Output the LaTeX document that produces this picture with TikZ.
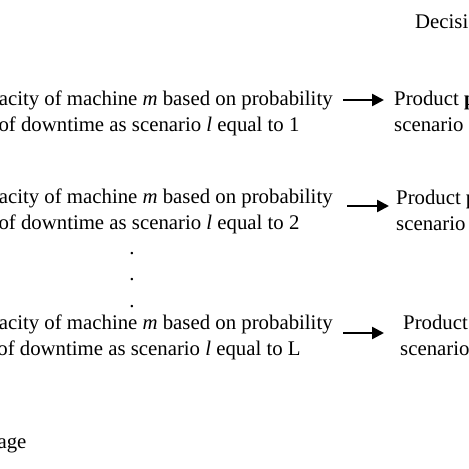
\documentclass[tikz,border=0pt]{standalone}
\usepackage{fontspec}
\setmainfont{Liberation Serif}
\usetikzlibrary{arrows.meta}
\begin{document}
\begin{tikzpicture}[x=1pt,y=-1pt,
  txt/.style={inner sep=0pt,font=\fontsize{20.8}{26}\selectfont},
  lefttxt/.style={txt,align=center,anchor=base},
  righttxt/.style={txt,align=left,anchor=base west},
  arr/.style={line width=2.5pt,-{Triangle[length=12pt,width=12pt]}}]
\useasboundingbox (0,0) rectangle (469,469);
\clip (0,0) rectangle (469,469);
% heading and footer
\node[txt,anchor=base west] (head) at (415,28) {Decision stage};
\node[txt,anchor=base west] (foot) at (-20,448) {Stage};
% scenario rows: capacity on the left, product on the right
% (the base anchor sits on the last line's baseline)
\node[lefttxt] (c1) at (149,131) {Capacity of machine \textit{m} based on probability\\of downtime as scenario \textit{l} equal to 1};
\node[righttxt] (p1) at (394,131) {Product \textbf{p} produced under\\scenario 1};
\node[lefttxt] (c2) at (149,229) {Capacity of machine \textit{m} based on probability\\of downtime as scenario \textit{l} equal to 2};
\node[righttxt] (p2) at (396,230) {Product \textbf{p} produced under\\scenario 2};
\node[lefttxt] (c3) at (149,355) {Capacity of machine \textit{m} based on probability\\of downtime as scenario \textit{l} equal to L};
\node[righttxt] (p3) at (400,355) {\hspace*{3pt}Product \textbf{p} produced under\\scenario L};
% vertical ellipsis between the rows
\foreach \y/\n in {254/d1,280/d2,307/d3}
  \node[txt,anchor=base] (\n) at (132,\y) {.};
% arrow ends
\coordinate (a1) at (343,100); \coordinate (b1) at (384,100);
\coordinate (a2) at (347,206); \coordinate (b2) at (389,206);
\coordinate (a3) at (343,333); \coordinate (b3) at (384,333);
\draw[arr] (a1) -- (b1);
\draw[arr] (a2) -- (b2);
\draw[arr] (a3) -- (b3);
\end{tikzpicture}
\end{document}
